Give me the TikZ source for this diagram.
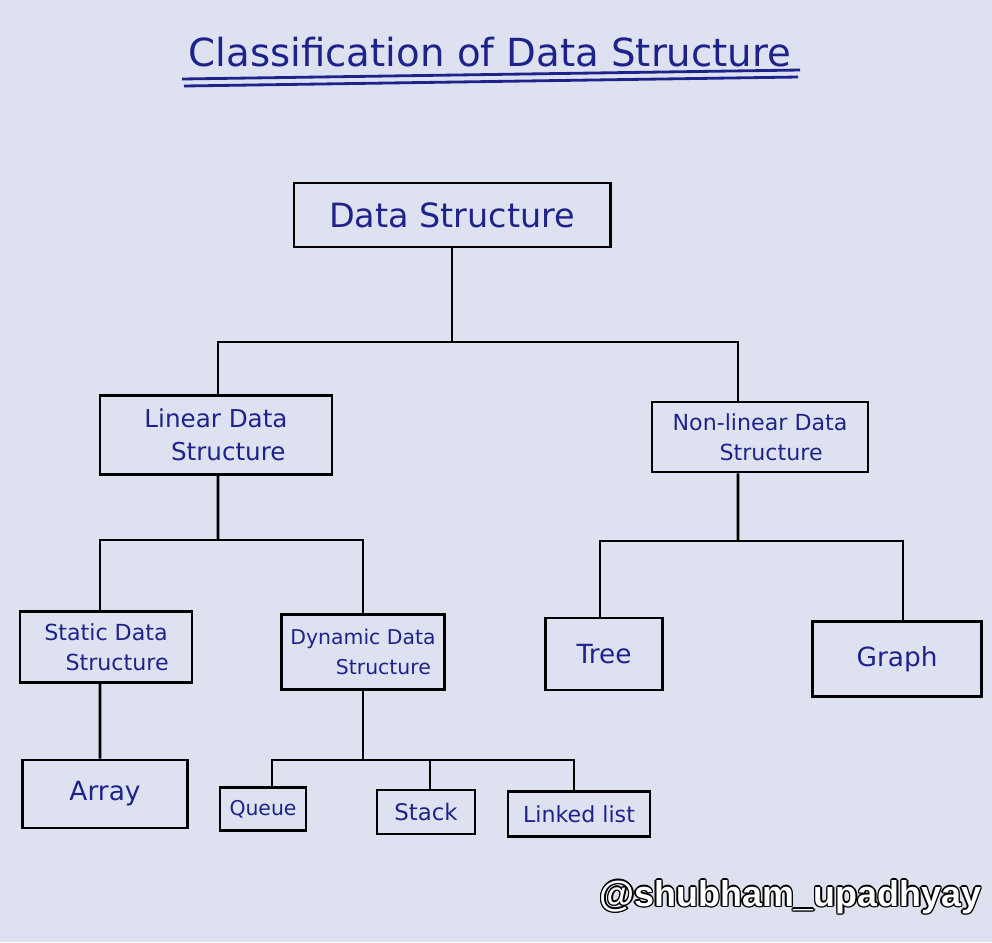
\documentclass[tikz,border=0pt]{standalone}
\usepackage{fontspec}
\setmainfont{DejaVu Sans}
\newfontfamily\markfont{Liberation Sans}
\definecolor{paper}{RGB}{222,226,240}
\definecolor{ink}{RGB}{30,35,140}
\begin{document}
\begin{tikzpicture}[x=0.01cm,y=-0.01cm,
    box/.style={draw=black,thick,text=ink,inner sep=0pt,align=center},
    link/.style={black,thick}]
                \fill[paper](0,0)rectangle(992,942);
                \useasboundingbox(0,0)rectangle(992,942);
                % title
                \node[text=ink,font=\fontsize{11}{12}\selectfont](title)at(490,52){Classification of Data Structure};
                \draw[ink,thick](182,79)--(800,70);
                \draw[ink,thick](184,86)--(798,77);
                % boxes
                \node[box,minimum width=3.16cm,minimum height=0.64cm,font=\fontsize{9.5}{11}\selectfont](ds)at(452,215){Data Structure};
                \node[box,minimum width=2.32cm,minimum height=0.79cm,font=\fontsize{7}{9.5}\selectfont](lin)at(216,435){Linear Data\\\quad Structure};
                \node[box,minimum width=2.16cm,minimum height=0.70cm,font=\fontsize{6.3}{8.5}\selectfont](non)at(760,437){Non-linear Data\\\quad Structure};
                \node[box,minimum width=1.72cm,minimum height=0.71cm,font=\fontsize{6.3}{8.5}\selectfont](sta)at(106,647){Static Data\\\quad Structure};
                \node[box,minimum width=1.63cm,minimum height=0.75cm,font=\fontsize{5.8}{8.5}\selectfont](dyn)at(363,652){Dynamic Data\\\qquad Structure};
                \node[box,minimum width=1.17cm,minimum height=0.72cm,font=\fontsize{7.5}{9}\selectfont](tree)at(604,654){Tree};
                \node[box,minimum width=1.69cm,minimum height=0.75cm,font=\fontsize{7.5}{9}\selectfont](graph)at(897,659){Graph};
                \node[box,minimum width=1.65cm,minimum height=0.68cm,font=\fontsize{7.5}{9}\selectfont](arr)at(105,794){Array};
                \node[box,minimum width=0.86cm,minimum height=0.43cm,font=\fontsize{5.8}{7}\selectfont](que)at(263,809){Queue};
                \node[box,minimum width=0.98cm,minimum height=0.44cm,font=\fontsize{6.5}{7}\selectfont](stk)at(426,812){Stack};
                \node[box,minimum width=1.42cm,minimum height=0.45cm,font=\fontsize{6.3}{7}\selectfont](ll)at(579,814){Linked list};
                % joints
                \coordinate(j1)at(452,342);
                \coordinate(j2)at(218,540);
                \coordinate(j3)at(738,541);
                \coordinate(j4)at(363,760);
                \draw[link](ds)--(j1);
                \draw[link](j1)-|([xshift=0.02cm]lin.north);
                \draw[link](j1)-|([xshift=-0.22cm]non.north);
                \draw[link]([xshift=0.02cm]lin.south)--(j2);
                \draw[link](j2)-|([xshift=-0.06cm]sta.north);
                \draw[link](j2)-|(dyn.north);
                \draw[link]([xshift=-0.22cm]non.south)--(j3);
                \draw[link](j3)-|([xshift=-0.04cm]tree.north);
                \draw[link](j3)-|([xshift=0.06cm]graph.north);
                \draw[link]([xshift=-0.06cm]sta.south)--([xshift=-0.05cm]arr.north);
                \draw[link](dyn.south)--(j4);
                \draw[link](j4)-|([xshift=0.09cm]que.north);
                \draw[link](j4)-|([xshift=0.04cm]stk.north);
                \draw[link](j4)-|([xshift=-0.05cm]ll.north);
                % watermark
                \foreach \dx/\dy in {-1.5/0,1.5/0,0/-1.5,0/1.5,-1/-1,1/1,-1/1,1/-1}
                  \node[black,anchor=east,inner sep=0pt,font=\markfont\bfseries\fontsize{10.2}{12}\selectfont]at(982+\dx,897+\dy){@shubham\_upadhyay};
                \node[white,anchor=east,inner sep=0pt,font=\markfont\bfseries\fontsize{10.2}{12}\selectfont](mark)at(982,897){@shubham\_upadhyay};
\end{tikzpicture}
\end{document}
